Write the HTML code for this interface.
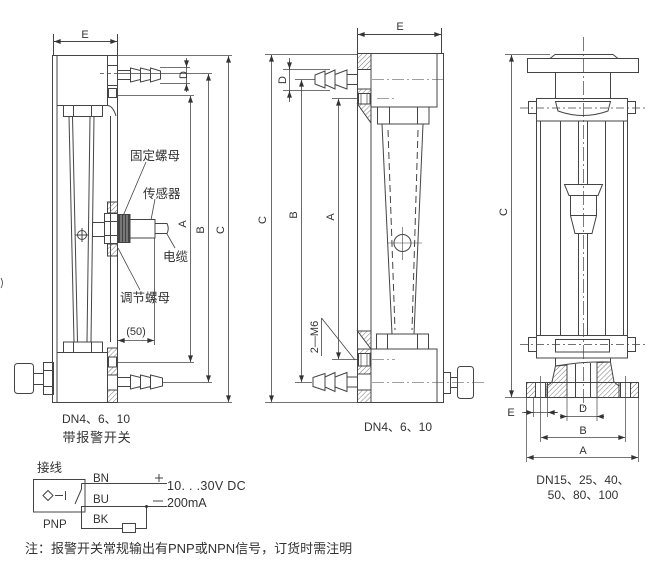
<!DOCTYPE html>
<html><head><meta charset="utf-8">
<style>
html,body{margin:0;padding:0;background:#fff;}
svg{display:block;}
text{font-family:"Liberation Sans","Noto Sans CJK SC",sans-serif;fill:#333;}
</style></head><body>
<svg width="650" height="562" viewBox="0 0 650 562" xmlns="http://www.w3.org/2000/svg">
<defs>
<marker id="ar" viewBox="0 0 8 6" refX="8" refY="3" markerWidth="7" markerHeight="5" markerUnits="userSpaceOnUse" orient="auto-start-reverse"><path d="M0,0L8,3L0,6z" fill="#333"/></marker>
<pattern id="ht" width="3.5" height="3.5" patternUnits="userSpaceOnUse" patternTransform="rotate(45)"><line x1="0" y1="0" x2="0" y2="3.5" stroke="#777" stroke-width="1"/></pattern>
</defs>

<!-- ================= LEFT DRAWING ================= -->
<g fill="none" stroke="#444" stroke-width="1">
<path d="M53.5 34V55M117.5 34V55"/>
<path d="M54 41.5H117" marker-start="url(#ar)" marker-end="url(#ar)"/>
<rect x="52.5" y="55.5" width="4.5" height="347"/>
<rect x="57" y="55.5" width="50.5" height="50"/>
<path d="M107.5 55.5H117.5V402.5H107.5M110.5 116V342"/>
<path d="M107.5 65.5H117.5M107.5 85.5H117.5"/>
<rect x="108.5" y="88.5" width="8" height="9"/>
<path d="M107.5 105.5Q113 106 116 116"/>
<path d="M100 73.5H117" stroke-dasharray="4 3" stroke-width="0.7"/>
<!-- nuts & tube -->
<rect x="63.5" y="105.5" width="39" height="11"/>
<path d="M73.5 105.5V116.5M91.5 105.5V116.5"/>
<path d="M69 116.5L74 342M72.5 116.5L77.5 342M90 116.5L87 342M94 116.5L91 342"/>
<rect x="63.5" y="342" width="39" height="10.5"/>
<path d="M73.5 342V352.5M91.5 342V352.5"/>
<rect x="57" y="352.5" width="50.5" height="50"/>
<circle cx="82" cy="235" r="4.5"/>
<path d="M75 235H89M82 228V242"/>
<!-- plate hatches -->
<rect x="107.5" y="202" width="10" height="11" fill="url(#ht)"/>
<rect x="107.5" y="244" width="10" height="12" fill="url(#ht)"/>
<rect x="107.5" y="348" width="10" height="9" fill="url(#ht)"/>
<rect x="108.5" y="357" width="8" height="10"/>
<rect x="107.5" y="367" width="10" height="8" fill="url(#ht)"/>
<rect x="107.5" y="390" width="10" height="12.5" fill="url(#ht)"/>
<!-- sensor -->
<rect x="92.5" y="222.5" width="12" height="14"/>
<rect x="104.5" y="213.5" width="13" height="30"/>
<path d="M104.5 221.5H117.5M104.5 235.5H117.5"/>
<rect x="117.5" y="214.5" width="12.5" height="28" fill="#444"/>
<path d="M121 215V242M124 215V242M127 215V242" stroke="#aaa"/>
<rect x="130" y="219.5" width="25" height="18.5"/>
<path d="M155 223.5H167Q169.5 228.5 167 233.5H155"/>
<!-- hoses -->
<path d="M117.5 70.5H130.5V79.5H117.5"/>
<path d="M130.5 68L140.5 70.5V79.5L130.5 82Z M140.5 68L150.5 70.5V79.5L140.5 82Z M150.5 68L160.5 71V79L150.5 82Z"/>
<path d="M117.5 377.5H130.5V386.5H117.5"/>
<path d="M130.5 375L140.5 377.5V386.5L130.5 389Z M140.5 375L150.5 377.5V386.5L140.5 389Z M150.5 375L162.5 378V386L150.5 389Z"/>
<!-- valve -->
<rect x="43.5" y="362.5" width="10" height="32"/>
<path d="M43.5 370.5H53.5M43.5 386.5H53.5"/>
<rect x="33.5" y="373.5" width="10" height="11"/>
<rect x="14.5" y="363.5" width="19" height="30" rx="3"/>
<!-- dimensions -->
<path d="M117 55.5H232M160 67.5H190M117 73.5H212M160 83.5H190M117 95.5H194M117 362.5H194M163 382.5H212M117 402.5H232" stroke-width="0.8"/>
<path d="M186.5 58V92" stroke-width="0.8"/>
<path d="M186.5 60V67" marker-end="url(#ar)"/>
<path d="M186.5 90V84" marker-end="url(#ar)"/>
<path d="M190.5 96V362" marker-start="url(#ar)" marker-end="url(#ar)" stroke-width="0.8"/>
<path d="M208.5 74V382" marker-start="url(#ar)" marker-end="url(#ar)" stroke-width="0.8"/>
<path d="M228.5 56V402" marker-start="url(#ar)" marker-end="url(#ar)" stroke-width="0.8"/>
<path d="M154.5 238V345" stroke-width="0.8"/>
<path d="M118 340.5H154" marker-start="url(#ar)" marker-end="url(#ar)" stroke-width="0.8"/>
<!-- leaders -->
<path d="M146 162L123 216M155 199L151 220M167 234L175 248M118 248L140 290" stroke-width="0.8"/>
<path d="M1 278Q4 283 1 288" stroke-width="0.8"/>
</g>
<g font-size="11">
<text x="85" y="38" text-anchor="middle">E</text>
<text x="0" y="0" text-anchor="middle" transform="translate(184,75) rotate(-90)" dominant-baseline="central">D</text>
<text x="0" y="0" text-anchor="middle" transform="translate(183,224) rotate(-90)" dominant-baseline="central">A</text>
<text x="0" y="0" text-anchor="middle" transform="translate(201,230) rotate(-90)" dominant-baseline="central">B</text>
<text x="0" y="0" text-anchor="middle" transform="translate(221,230) rotate(-90)" dominant-baseline="central">C</text>
<text x="136" y="335" text-anchor="middle">(50)</text>
</g>
<g font-size="12.5">
<text x="130" y="160">固定螺母</text>
<text x="143" y="198">传感器</text>
<text x="163" y="261">电缆</text>
<text x="120" y="302">调节螺母</text>
</g>
<text x="96" y="423" font-size="12" text-anchor="middle">DN4、6、10</text>
<text x="97" y="442" font-size="13" text-anchor="middle" letter-spacing="0.8">带报警开关</text>

<!-- ================= MIDDLE DRAWING ================= -->
<g fill="none" stroke="#444" stroke-width="1">
<path d="M357.5 28V53M441.5 28V53"/>
<path d="M358 34.5H441" marker-start="url(#ar)" marker-end="url(#ar)"/>
<path d="M357.5 53.5V402.5M371 53.5V402.5M357.5 53.5H371M357.5 402.5H371"/>
<rect x="357.5" y="53.5" width="13.5" height="16" fill="url(#ht)"/>
<rect x="357.5" y="89" width="13.5" height="4.5" fill="url(#ht)"/>
<rect x="358.5" y="93.5" width="11.5" height="10.5"/>
<path d="M361 94V104M367 94V104" stroke-width="0.7"/>
<polygon points="357.5,104 371,104 371,123" fill="url(#ht)"/>
<polygon points="357.5,331 371,331 371,349" fill="url(#ht)"/>
<rect x="357.5" y="349" width="13.5" height="4.5" fill="url(#ht)"/>
<rect x="358.5" y="353.5" width="11.5" height="12.5"/>
<path d="M361 354V366M367 354V366" stroke-width="0.7"/>
<rect x="357.5" y="366" width="13.5" height="8" fill="url(#ht)"/>
<rect x="357.5" y="390" width="13.5" height="12.5" fill="url(#ht)"/>
<rect x="371" y="53.5" width="66" height="53.5"/>
<path d="M437 53.5H443.5V402.5H437"/>
<rect x="377.5" y="107" width="51.5" height="17"/>
<path d="M389.5 107V124M417.5 107V124"/>
<path d="M382 124L392 334M423 124L414 334"/>
<path d="M388 130L395 330M418 130L412 330" stroke-dasharray="7 4"/>
<circle cx="402.5" cy="243" r="8.5"/>
<path d="M387 243H422M402.5 227V260" stroke-width="0.6"/>
<rect x="376.5" y="334" width="52" height="15"/>
<path d="M387.5 334V349M417.5 334V349"/>
<rect x="371" y="349" width="66" height="53.5"/>
<path d="M372 79.5H445M377 98.5H395M372 359.5H395M372 382.5H485" stroke-dasharray="12 3 2 3" stroke-width="0.6"/>
<!-- hoses -->
<path d="M357.5 74.5H347V84.5H357.5"/>
<path d="M347 70L335 74.5V84.5L347 89Z M335 70L325 74.5V84.5L335 89Z M325 71L315 75V84L325 88Z"/>
<path d="M357.5 377H347V387H357.5"/>
<path d="M347 372.5L335 377V387L347 391.5Z M335 372.5L325 377V387L335 391.5Z M325 373.5L313 377.5V386.5L325 390.5Z"/>
<!-- valve -->
<rect x="443.5" y="372.5" width="7" height="21"/>
<rect x="450.5" y="377.5" width="7" height="10"/>
<rect x="457.5" y="366.5" width="16" height="32" rx="3"/>
<!-- dims -->
<path d="M265 54.5H357M283 69.5H330M283 90.5H330M295 79.5H315M332 98.5H357M332 359.5H357M295 382.5H312M265 402.5H357" stroke-width="0.8"/>
<path d="M271.5 55V402" marker-start="url(#ar)" marker-end="url(#ar)" stroke-width="0.8"/>
<path d="M289.5 58V102" stroke-width="0.8"/>
<path d="M289.5 61V69" marker-end="url(#ar)"/>
<path d="M289.5 99V91" marker-end="url(#ar)"/>
<path d="M301.5 80V382" marker-start="url(#ar)" marker-end="url(#ar)" stroke-width="0.8"/>
<path d="M338.5 99V359" marker-start="url(#ar)" marker-end="url(#ar)" stroke-width="0.8"/>
<path d="M321.5 318V356M321.5 318L355 360" stroke-width="0.8"/>
</g>
<g font-size="11">
<text x="400" y="30" text-anchor="middle">E</text>
<text x="0" y="0" text-anchor="middle" transform="translate(283,80) rotate(-90)" dominant-baseline="central">D</text>
<text x="0" y="0" text-anchor="middle" transform="translate(263,220) rotate(-90)" dominant-baseline="central">C</text>
<text x="0" y="0" text-anchor="middle" transform="translate(294,215) rotate(-90)" dominant-baseline="central">B</text>
<text x="0" y="0" text-anchor="middle" transform="translate(331,217) rotate(-90)" dominant-baseline="central">A</text>
<text x="0" y="0" text-anchor="middle" transform="translate(315,337) rotate(-90)" dominant-baseline="central">2—M6</text>
</g>
<text x="398" y="431" font-size="12" text-anchor="middle">DN4、6、10</text>

<!-- ================= RIGHT DRAWING ================= -->
<g fill="none" stroke="#444" stroke-width="1">
<path d="M583.5 37V412" stroke-dasharray="14 3 2 3" stroke-width="0.7"/>
<path d="M550 58.5L555 54.5H613L618 58.5"/>
<rect x="527.5" y="58.5" width="111" height="14"/>
<path d="M555.5 72.5V98.5M610.5 72.5V98.5"/>
<rect x="536.5" y="98.5" width="91" height="22.5"/>
<rect x="528.5" y="101.5" width="8" height="12"/>
<rect x="627.5" y="101.5" width="8" height="12"/>
<path d="M520 108H646" stroke-dasharray="8 3 2 3" stroke-width="0.7"/>
<path d="M555.5 101.5H610.5L608 111Q583 120 558 111Z"/>
<path d="M536.5 121V335M540.5 121V335M560.5 121V335M605.5 121V335M623.5 121V335M627.5 121V335"/>
<path d="M578.5 121V184M587.5 121V184M578.5 233V335M587.5 233V335"/>
<path d="M564.5 184.5H602.5L598 195.5H569Z"/>
<rect x="570.5" y="195.5" width="26" height="20"/>
<path d="M570.5 215.5L575 233.5H592L596.5 215.5"/>
<rect x="536.5" y="335.5" width="91" height="22.5"/>
<rect x="528.5" y="337.5" width="8" height="14"/>
<rect x="627.5" y="337.5" width="8" height="14"/>
<rect x="555.5" y="339.5" width="54" height="12.5"/>
<path d="M520 344.5H646" stroke-dasharray="8 3 2 3" stroke-width="0.7"/>
<path d="M555.5 358V366M610.5 358V362"/>
<path d="M555.5 366Q585 361 610.5 362"/>
<polygon points="555.5,366 567,365 567,397.5 547,397.5 547,386 552,382" fill="url(#ht)"/>
<polygon points="597,362.5 610.5,362 614,382 619,386 619,397.5 597,397.5" fill="url(#ht)"/>
<path d="M575.5 364V397.5M590.5 363V397.5"/>
<rect x="526.5" y="382.5" width="112" height="15"/>
<rect x="526.5" y="382.5" width="9" height="15" fill="url(#ht)"/>
<rect x="545.5" y="382.5" width="2" height="15" fill="url(#ht)"/>
<rect x="619" y="382.5" width="1.5" height="15" fill="url(#ht)"/>
<rect x="630.5" y="382.5" width="8" height="15" fill="url(#ht)"/>
<path d="M535.5 382.5V397.5M545.5 382.5V397.5M620.5 382.5V397.5M630.5 382.5V397.5"/>
<!-- dims -->
<path d="M505 54.5H550M505 397.5H526" stroke-width="0.8"/>
<path d="M511.5 55V397" marker-start="url(#ar)" marker-end="url(#ar)" stroke-width="0.8"/>
<path d="M526.5 398V462M638.5 398V462M540.5 376V442M625.5 376V442M567 398V421M597 398V421M533.5 398V417M547.5 398V417" stroke-width="0.7"/>
<path d="M522 412.5H558" stroke-width="0.8"/>
<path d="M524 412.5H533" marker-end="url(#ar)"/>
<path d="M557 412.5H548" marker-end="url(#ar)"/>
<path d="M560 416.5H604" stroke-width="0.8"/>
<path d="M560 416.5H567" marker-end="url(#ar)"/>
<path d="M604 416.5H597" marker-end="url(#ar)"/>
<path d="M541 437.5H625" marker-start="url(#ar)" marker-end="url(#ar)" stroke-width="0.8"/>
<path d="M527 457.5H638" marker-start="url(#ar)" marker-end="url(#ar)" stroke-width="0.8"/>
</g>
<g font-size="11">
<text x="0" y="0" text-anchor="middle" transform="translate(504,212) rotate(-90)" dominant-baseline="central">C</text>
<text x="511" y="416" text-anchor="middle">E</text>
<text x="583" y="412" text-anchor="middle">D</text>
<text x="583" y="434" text-anchor="middle">B</text>
<text x="583" y="454" text-anchor="middle">A</text>
</g>
<text x="583" y="484" font-size="12" text-anchor="middle">DN15、25、40、</text>
<text x="583" y="499" font-size="12" text-anchor="middle">50、80、100</text>

<!-- ================= WIRING ================= -->
<g fill="none" stroke="#444" stroke-width="1">
<rect x="33.5" y="479.5" width="51.5" height="32.5"/>
<path d="M43 495.5L48 490.5L53 495.5L48 500.5Z"/>
<path d="M55 495.5H63M65.5 491V500"/>
<path d="M81.5 483.5V489L75 504M81.5 506V528.5H122.5"/>
<path d="M81.5 483.5H167M81.5 506.5H167"/>
<rect x="122.5" y="523.5" width="13" height="9"/>
<path d="M135.5 528.5H146.5V506.5"/>
<path d="M155 478H163M159 474V482M153 501H163"/>
</g>
<circle cx="146.5" cy="506.5" r="1.5" fill="#333"/>
<text x="37" y="472" font-size="12.5">接线</text>
<g font-size="11.5">
<text x="93" y="482">BN</text>
<text x="93" y="503">BU</text>
<text x="93" y="523">BK</text>
<text x="43" y="528">PNP</text>
</g>
<text x="167" y="490" font-size="12.5" letter-spacing="0.3">10. . .30V DC</text>
<text x="167" y="507" font-size="12.5">200mA</text>
<text x="25" y="553" font-size="13">注：报警开关常规输出有PNP或NPN信号，订货时需注明</text>
</svg>
</body></html>
